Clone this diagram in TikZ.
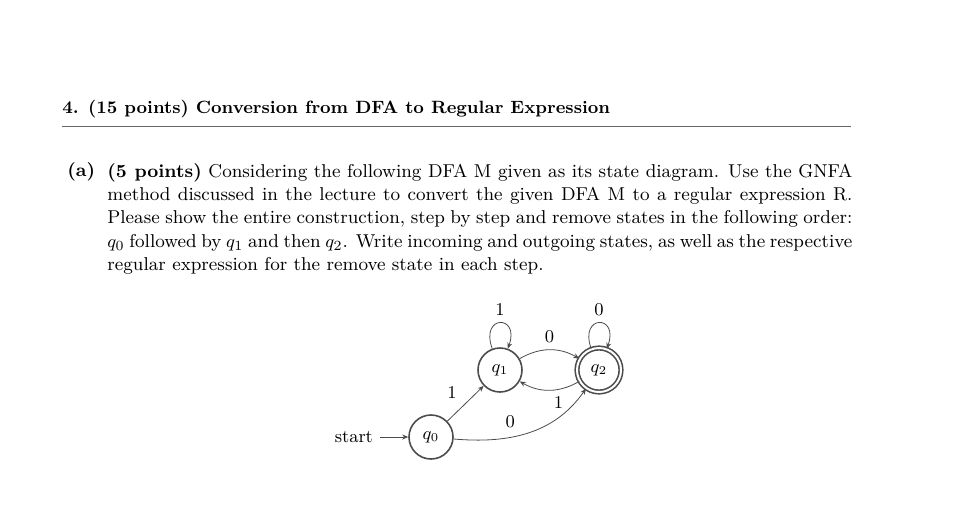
\documentclass[tikz,border=0pt]{standalone}
\usetikzlibrary{automata,positioning,arrows.meta}
\begin{document}
\begin{tikzpicture}[x=0.5pt,y=-0.5pt,
  st/.style={circle,draw=black!70,thick,minimum size=22pt,inner sep=0pt,font=\fontsize{9}{11}\selectfont},
  acc/.style={st,double,double distance=1pt},
  tr/.style={draw=black!70,-{Stealth[length=3pt,width=2.5pt]}},
  lb/.style={font=\fontsize{9}{11}\selectfont}]
\useasboundingbox (0,0) rectangle (980,527);
\node[anchor=base west,inner sep=0pt,font=\fontsize{8.9}{11}\selectfont\bfseries] (title) at (62,113) {4. (15 points) Conversion from DFA to Regular Expression};
\draw[black!60,line width=0.4pt] (62,126) -- (851,126);
\node[anchor=base west,inner sep=0pt,font=\fontsize{9.3}{11.65}\selectfont\bfseries] (pa) at (67,176) {(a)};
\node[anchor=north west,inner sep=0pt,text width=372.5pt,align=justify,font=\fontsize{9.3}{11.65}\selectfont] (body) at (107,163) {\hyphenpenalty=10000\textbf{(5 points)} Considering the following DFA M given as its state diagram. Use the GNFA\linebreak method discussed in the lecture to convert the given DFA M to a regular expression R.\linebreak Please show the entire construction, step by step and remove states in the following order:\linebreak $q_0$ followed by $q_1$ and then $q_2$. Write incoming and outgoing states, as well as the respective\linebreak regular expression for the remove state in each step.};
\node[st] (q0) at (431,437) {$q_0$};
\node[st] (q1) at (500,370) {$q_1$};
\node[acc] (q2) at (599,370) {$q_2$};
\node[lb,anchor=east] (start) at (380,437) {start};
\draw[tr] (start) -- (q0);
\draw[tr] (q0) -- node[lb,above left,pos=0.45] {1} (q1);
\draw[tr] (q0) to[out=-5,in=-125] node[lb,above left,pos=0.45] {0} (q2);
\draw[tr] (q1) to[bend left=30] node[lb,above] {0} (q2);
\draw[tr] (q2) to[bend left=30] node[lb,below,pos=0.35] {1} (q1);
\draw[tr] (q1) to[loop above,looseness=6,in=70,out=110] node[lb,above] {1} (q1);
\draw[tr] (q2) to[loop above,looseness=6,in=70,out=110] node[lb,above] {0} (q2);
\end{tikzpicture}
\end{document}
